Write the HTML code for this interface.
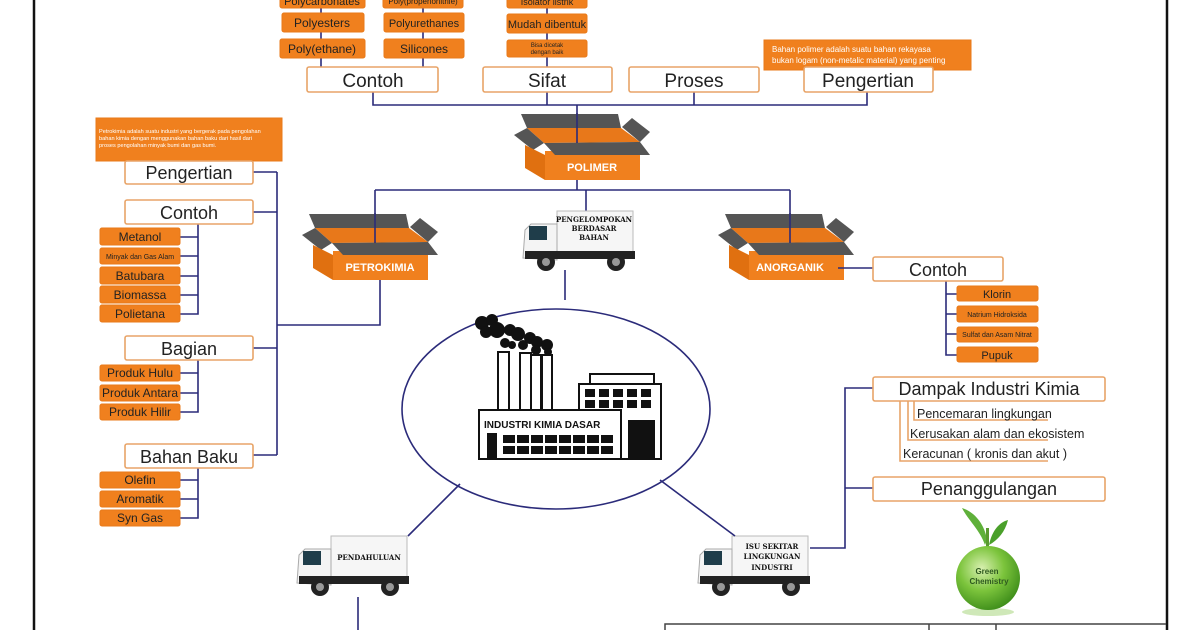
<!DOCTYPE html>
<html><head><meta charset="utf-8"><style>
html,body{margin:0;padding:0;background:#fff;}
svg{display:block;font-family:"Liberation Sans",sans-serif;}
.ob{fill:#F0801E;stroke:#E87A1A;stroke-width:1;}
.wb{fill:#fff;stroke:#E8A468;stroke-width:1.6;}
.ln{stroke:#2B2B7A;stroke-width:1.6;fill:none;}
.ol{stroke:#E8A468;stroke-width:1.6;fill:none;}
.t{fill:#222;text-anchor:middle;}
.bt{fill:#fff;font-weight:bold;text-anchor:middle;font-size:11px;}
.tt{font-family:"DejaVu Serif",serif;font-weight:bold;font-size:7px;fill:#111;text-anchor:middle;}
</style></head><body>
<svg width="1200" height="630" viewBox="0 0 1200 630">
<defs>
<g id="box">
<polygon points="7,1 104,1 107,15 13,15" fill="#555"/>
<polygon points="13,15 107,15 126,29 30,30" fill="#E8781A"/>
<polygon points="108,14 118,5 136,19 126,29" fill="#555"/>
<polygon points="0,22 13,15 30,30 19,37" fill="#555"/>
<polygon points="11,32 31,42 31,67 11,55" fill="#E07010"/>
<rect x="31" y="38" width="95" height="29" fill="#F0801E"/>
<polygon points="30,30 126,29 136,42 41,42" fill="#555"/>
</g>
<g id="truck">
<rect x="35" y="1" width="76" height="42" fill="#f6f6f6" stroke="#bbb"/>
<path d="M1,48 L3,20 L9,14 L35,14 L35,50 Z" fill="#f4f4f4" stroke="#aaa"/>
<rect x="7" y="16" width="18" height="14" fill="#1f3d4a"/>
<rect x="3" y="41" width="110" height="8" fill="#222"/>
<circle cx="24" cy="52" r="9" fill="#222"/><circle cx="24" cy="52" r="4" fill="#999"/>
<circle cx="94" cy="52" r="9" fill="#222"/><circle cx="94" cy="52" r="4" fill="#999"/>
</g>
</defs>

<line x1="34" y1="0" x2="34" y2="630" stroke="#111" stroke-width="2.5"/>
<line x1="1167" y1="0" x2="1167" y2="630" stroke="#111" stroke-width="2.5"/>
<polyline points="665,630 665,624 1166,624" fill="none" stroke="#444" stroke-width="1.5"/>
<line x1="929" y1="624" x2="929" y2="630" stroke="#444" stroke-width="1.5"/>
<line x1="996" y1="624" x2="996" y2="630" stroke="#444" stroke-width="1.5"/>

<path class="ln" d="M321,0 V85 H423 V0 M373,85 V67 M547,0 V67 M373,92 V105 H867 V92 M547,92 V105 M694,92 V105 M577,105 V145"/>
<path class="ln" d="M577,180 V190 M375,190 H790 M375,190 V240 M790,190 V240 M586,190 V211 M565,270 V300"/>
<rect class="ob" x="280" y="-4" width="85" height="12" rx="2"/><text class="t" x="322" y="5" font-size="11">Polycarbonates</text>
<rect class="ob" x="282" y="13" width="82" height="19" rx="2"/><text class="t" x="322" y="27" font-size="12">Polyesters</text>
<rect class="ob" x="280" y="39" width="85" height="19" rx="2"/><text class="t" x="322" y="53" font-size="12">Poly(ethane)</text>
<rect class="ob" x="383" y="-4" width="80" height="12" rx="2"/><text class="t" x="423" y="4" font-size="8">Poly(propenonitrile)</text>
<rect class="ob" x="384" y="13" width="80" height="19" rx="2"/><text class="t" x="424" y="27" font-size="11">Polyurethanes</text>
<rect class="ob" x="384" y="39" width="80" height="19" rx="2"/><text class="t" x="424" y="53" font-size="12">Silicones</text>
<rect class="ob" x="507" y="-4" width="80" height="12" rx="2"/><text class="t" x="547" y="5" font-size="9">Isolator listrik</text>
<rect class="ob" x="507" y="14" width="80" height="19" rx="2"/><text class="t" x="547" y="28" font-size="11">Mudah dibentuk</text>
<rect class="ob" x="507" y="40" width="80" height="17" rx="2"/><text class="t" x="547" y="47" font-size="6">Bisa dicetak</text><text class="t" x="547" y="54" font-size="6">dengan baik</text>
<rect class="ob" x="764" y="40" width="207" height="30"/>
<text x="772" y="52" font-size="8" fill="#fff">Bahan polimer adalah suatu bahan rekayasa</text>
<text x="772" y="63" font-size="8" fill="#fff">bukan logam (non-metalic material) yang penting</text>

<rect class="wb" x="307" y="67" width="131" height="25" rx="2"/><text class="t" x="373" y="87" font-size="19">Contoh</text>
<rect class="wb" x="483" y="67" width="129" height="25" rx="2"/><text class="t" x="547" y="87" font-size="19">Sifat</text>
<rect class="wb" x="629" y="67" width="130" height="25" rx="2"/><text class="t" x="694" y="87" font-size="19">Proses</text>
<rect class="wb" x="804" y="67" width="129" height="25" rx="2"/><text class="t" x="868" y="87" font-size="19">Pengertian</text>

<use href="#box" x="514" y="113"/><line class="ln" x1="577" y1="113" x2="577" y2="143"/>
<text class="bt" x="592" y="171">POLIMER</text>
<use href="#box" x="302" y="213"/><line class="ln" x1="375" y1="213" x2="375" y2="243"/>
<text class="bt" x="380" y="271">PETROKIMIA</text>
<use href="#box" x="718" y="213"/><line class="ln" x1="790" y1="213" x2="790" y2="243"/>
<text class="bt" x="790" y="271">ANORGANIK</text>

<use href="#truck" x="522" y="210"/>
<text class="tt" x="594" y="222">PENGELOMPOKAN</text><text class="tt" x="594" y="231">BERDASAR</text><text class="tt" x="594" y="240">BAHAN</text>
<use href="#truck" x="296" y="535"/>
<text class="tt" x="369" y="560">PENDAHULUAN</text>
<use href="#truck" x="697" y="535"/>
<text class="tt" x="772" y="549">ISU SEKITAR</text><text class="tt" x="772" y="559">LINGKUNGAN</text><text class="tt" x="772" y="570">INDUSTRI</text>

<ellipse cx="556" cy="409" rx="154" ry="100" class="ln"/>
<path class="ln" d="M460,484 L408,536 M660,480 L735,536 M358,597 V630"/>
<g fill="#111">
<circle cx="482" cy="323" r="7"/><circle cx="492" cy="320" r="6"/><circle cx="497" cy="330" r="8"/>
<circle cx="505" cy="343" r="5"/><circle cx="510" cy="330" r="6"/><circle cx="518" cy="334" r="7"/>
<circle cx="523" cy="345" r="5"/><circle cx="530" cy="338" r="6"/><circle cx="537" cy="342" r="6"/>
<circle cx="547" cy="345" r="6"/><circle cx="536" cy="350" r="5"/><circle cx="548" cy="352" r="4"/>
<circle cx="486" cy="332" r="6"/><circle cx="512" cy="345" r="4"/>
</g>
<g fill="#fff" stroke="#111" stroke-width="2">
<rect x="498" y="352" width="11" height="60"/><rect x="520" y="353" width="11" height="60"/><rect x="531" y="355" width="10" height="60"/><rect x="542" y="355" width="10" height="60"/>
<rect x="590" y="374" width="64" height="10"/>
<rect x="579" y="384" width="82" height="75"/>
<rect x="479" y="410" width="142" height="49"/>
</g>
<g fill="#111">
<rect x="585" y="389" width="10" height="8"/><rect x="599" y="389" width="10" height="8"/><rect x="613" y="389" width="10" height="8"/><rect x="627" y="389" width="10" height="8"/><rect x="641" y="389" width="10" height="8"/>
<rect x="585" y="400" width="10" height="8"/><rect x="599" y="400" width="10" height="8"/><rect x="613" y="400" width="10" height="8"/><rect x="627" y="400" width="10" height="8"/><rect x="641" y="400" width="10" height="8"/>
<rect x="628" y="420" width="27" height="38"/>
<rect x="487" y="433" width="10" height="25"/>
<rect x="503" y="435" width="12" height="8"/><rect x="517" y="435" width="12" height="8"/><rect x="531" y="435" width="12" height="8"/><rect x="545" y="435" width="12" height="8"/><rect x="559" y="435" width="12" height="8"/><rect x="573" y="435" width="12" height="8"/><rect x="587" y="435" width="12" height="8"/><rect x="601" y="435" width="12" height="8"/>
<rect x="503" y="446" width="12" height="8"/><rect x="517" y="446" width="12" height="8"/><rect x="531" y="446" width="12" height="8"/><rect x="545" y="446" width="12" height="8"/><rect x="559" y="446" width="12" height="8"/><rect x="573" y="446" width="12" height="8"/><rect x="587" y="446" width="12" height="8"/><rect x="601" y="446" width="12" height="8"/>
</g>
<text x="484" y="428" font-size="10" font-weight="bold" fill="#111">INDUSTRI KIMIA DASAR</text>

<path class="ln" d="M380,280 V325 H277 M277,172 V455 M253,172 H277 M253,212 H277 M253,348 H277 M253,455 H277"/>
<path class="ln" d="M198,224 V314 H180 M180,237 H198 M180,256 H198 M180,276 H198 M180,295 H198"/>
<path class="ln" d="M198,360 V412 H180 M180,373 H198 M180,393 H198"/>
<path class="ln" d="M198,468 V518 H180 M180,480 H198 M180,499 H198"/>
<rect class="ob" x="96" y="118" width="186" height="43"/>
<text x="99" y="133" font-size="5.6" fill="#fff">Petrokimia adalah suatu industri yang bergerak pada pengolahan</text>
<text x="99" y="140" font-size="5.6" fill="#fff">bahan kimia dengan menggunakan bahan baku dari hasil dari</text>
<text x="99" y="147" font-size="5.6" fill="#fff">proses pengolahan minyak bumi dan gas bumi.</text>
<rect class="wb" x="125" y="161" width="128" height="23" rx="2"/><text class="t" x="189" y="179" font-size="18">Pengertian</text>
<rect class="wb" x="125" y="200" width="128" height="24" rx="2"/><text class="t" x="189" y="219" font-size="18">Contoh</text>
<rect class="wb" x="125" y="336" width="128" height="24" rx="2"/><text class="t" x="189" y="355" font-size="18">Bagian</text>
<rect class="wb" x="125" y="444" width="128" height="24" rx="2"/><text class="t" x="189" y="463" font-size="18">Bahan Baku</text>
<g font-size="12">
<rect class="ob" x="100" y="228" width="80" height="17" rx="2"/><text class="t" x="140" y="241">Metanol</text>
<rect class="ob" x="100" y="248" width="80" height="16" rx="2"/><text class="t" x="140" y="259" font-size="7">Minyak dan Gas Alam</text>
<rect class="ob" x="100" y="267" width="80" height="17" rx="2"/><text class="t" x="140" y="280">Batubara</text>
<rect class="ob" x="100" y="286" width="80" height="17" rx="2"/><text class="t" x="140" y="299">Biomassa</text>
<rect class="ob" x="100" y="305" width="80" height="17" rx="2"/><text class="t" x="140" y="318">Polietana</text>
<rect class="ob" x="100" y="365" width="80" height="16" rx="2"/><text class="t" x="140" y="377">Produk Hulu</text>
<rect class="ob" x="100" y="385" width="80" height="16" rx="2"/><text class="t" x="140" y="397">Produk Antara</text>
<rect class="ob" x="100" y="404" width="80" height="16" rx="2"/><text class="t" x="140" y="416">Produk Hilir</text>
<rect class="ob" x="100" y="472" width="80" height="16" rx="2"/><text class="t" x="140" y="484">Olefin</text>
<rect class="ob" x="100" y="491" width="80" height="16" rx="2"/><text class="t" x="140" y="503">Aromatik</text>
<rect class="ob" x="100" y="510" width="80" height="16" rx="2"/><text class="t" x="140" y="522">Syn Gas</text>
</g>

<path class="ln" d="M838,268 H873 M946,281 V355 H957 M946,294 H957 M946,314 H957 M946,334 H957"/>
<rect class="wb" x="873" y="257" width="130" height="24" rx="2"/><text class="t" x="938" y="276" font-size="18">Contoh</text>
<rect class="ob" x="957" y="286" width="81" height="15" rx="2"/><text class="t" x="997" y="298" font-size="11">Klorin</text>
<rect class="ob" x="957" y="306" width="81" height="16" rx="2"/><text class="t" x="997" y="317" font-size="7">Natrium Hidroksida</text>
<rect class="ob" x="957" y="327" width="81" height="15" rx="2"/><text class="t" x="997" y="337" font-size="7">Sulfat dan Asam Nitrat</text>
<rect class="ob" x="957" y="347" width="81" height="15" rx="2"/><text class="t" x="997" y="359" font-size="11">Pupuk</text>

<path class="ln" d="M810,548 H845 V388 H873 M845,488 H873"/>
<rect class="wb" x="873" y="377" width="232" height="24" rx="2"/><text class="t" x="989" y="395" font-size="18">Dampak Industri Kimia</text>
<path class="ol" d="M914,401 V420 H1048 M908,401 V440 H1048 M900,401 V461 H1048"/>
<text x="917" y="418" font-size="12.5" fill="#222">Pencemaran lingkungan</text>
<text x="910" y="438" font-size="12.5" fill="#222">Kerusakan alam dan ekosistem</text>
<text x="903" y="458" font-size="12.5" fill="#222">Keracunan ( kronis dan akut )</text>
<rect class="wb" x="873" y="477" width="232" height="24" rx="2"/><text class="t" x="989" y="495" font-size="18">Penanggulangan</text>

<defs><radialGradient id="g" cx="0.4" cy="0.35" r="0.7"><stop offset="0" stop-color="#d8f0b0"/><stop offset="0.5" stop-color="#7cc43c"/><stop offset="1" stop-color="#3a8a18"/></radialGradient></defs>
<ellipse cx="988" cy="612" rx="26" ry="4" fill="#cfe8b8"/>
<path d="M985,545 C980,530 968,520 962,508 C975,512 985,525 987,540 Z" fill="#5fb03a"/>
<path d="M989,545 C992,530 1000,522 1008,520 C1005,532 998,540 989,545 Z" fill="#4aa02a"/>
<rect x="986" y="528" width="3" height="20" fill="#5a9a30"/>
<circle cx="988" cy="578" r="32" fill="url(#g)"/>
<text x="987" y="574" font-size="8" font-weight="bold" fill="#2f5a20" text-anchor="middle">Green</text>
<text x="989" y="584" font-size="8" font-weight="bold" fill="#2f5a20" text-anchor="middle">Chemistry</text>
</svg>
</body></html>
